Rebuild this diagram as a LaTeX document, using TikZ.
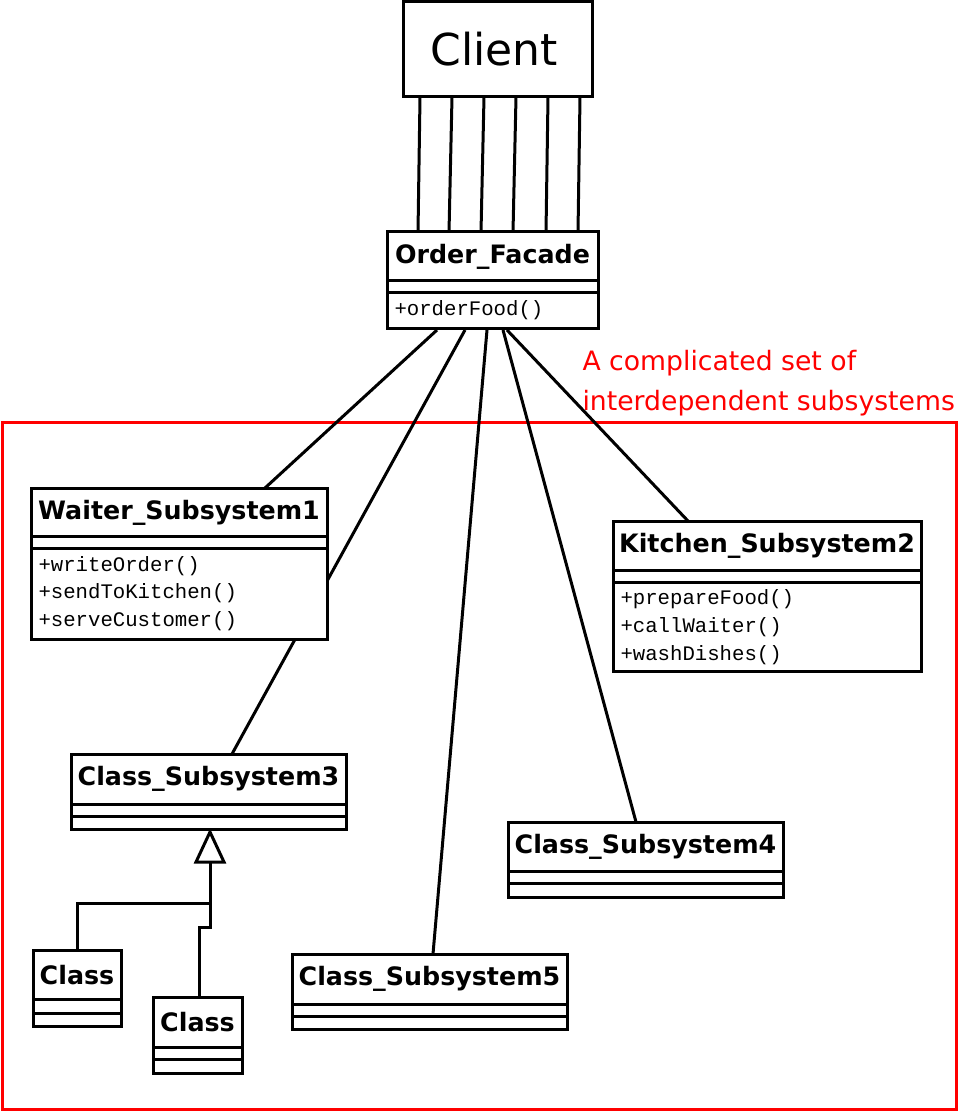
\documentclass[tikz,border=0pt]{standalone}
\usepackage{fontspec}
\setmainfont{DejaVu Sans}
\newfontfamily\monof{Liberation Mono}
\begin{document}
\begin{tikzpicture}[x=0.75pt,y=-0.75pt,line width=2.25pt,
  box/.style={draw,fill=white,inner sep=0pt},
  ttl/.style={font=\fontsize{19}{20}\selectfont\bfseries,anchor=center,inner sep=0pt},
  mth/.style={font=\monof\fontsize{15.5}{16}\selectfont,anchor=west,inner sep=0pt},
  conn/.style={draw,line width=2.25pt}]
\useasboundingbox (0,0) rectangle (960,1112);
% fitted box: #1 name, #2 x1, #3 y1, #4 x2, #5 y2, #6 line1, #7 line2
\newcommand\umlbox[7]{%
  \path[box] (#2,#3) rectangle (#4,#5);
  \node[inner sep=0pt,minimum width=0pt] (#1) at ({(#2+#4)/2},{(#3+#5)/2}) {};
  \draw (#2,#6) -- (#4,#6) (#2,#7) -- (#4,#7);}
% red frame
\draw[red,line width=2.25pt] (2,422) rectangle (956,1109);
\node[red,anchor=west,inner sep=0pt,font=\fontsize{20}{24}\selectfont] (note1) at (581,363) {A complicated set of};
\node[red,anchor=west,inner sep=0pt,font=\fontsize{20}{24}\selectfont] (note2) at (581,403) {interdependent subsystems};
% connector end coordinates
\coordinate (f1) at (437,330); \coordinate (w1) at (265,488);
\coordinate (f2) at (465,330); \coordinate (c3) at (232,754);
\coordinate (f3) at (487,330); \coordinate (c5) at (433,954);
\coordinate (f4) at (503,330); \coordinate (c4) at (636,822);
\coordinate (f5) at (507,330); \coordinate (k2) at (688,521);
\draw[conn] (f1) -- (w1);
\draw[conn] (f2) -- (c3);
\draw[conn] (f3) -- (c5);
\draw[conn] (f4) -- (c4);
\draw[conn] (f5) -- (k2);
% Client
\path[box] (403,2) rectangle (592,97);
\node[font=\fontsize{33}{36}\selectfont,inner sep=0pt] (client) at (494,49) {Client};
\foreach \a/\b in {420/418,452/449,484/481,516/513,548/546,580/578}
  \draw (\a,97) -- (\b,232);
% Order_Facade
\umlbox{facade}{387}{232}{598}{328}{281}{293}
\node[ttl] (facadet) at (492.5,257) {Order\_Facade};
\node[mth] (facadem) at (393,310) {+orderFood()};
% Waiter
\umlbox{waiter}{31}{488}{327}{639}{536}{548}
\node[ttl] (waitert) at (179,513) {Waiter\_Subsystem1};
\node[mth] (wm1) at (37,566) {+writeOrder()};
\node[mth] (wm2) at (37,593) {+sendToKitchen()};
\node[mth] (wm3) at (37,621) {+serveCustomer()};
% Kitchen
\umlbox{kitchen}{613}{521}{921}{671}{570}{582}
\node[ttl] (kitchent) at (767,546) {Kitchen\_Subsystem2};
\node[mth] (km1) at (619,599) {+prepareFood()};
\node[mth] (km2) at (619,627) {+callWaiter()};
\node[mth] (km3) at (619,655) {+washDishes()};
% Class subsystems
\umlbox{cs3}{71}{754}{346}{829}{804}{816}
\node[ttl] (cs3t) at (208.5,779) {Class\_Subsystem3};
\umlbox{cs4}{508}{822}{783}{897}{871}{883}
\node[ttl] (cs4t) at (645.5,847) {Class\_Subsystem4};
\umlbox{cs5}{292}{954}{567}{1029}{1004}{1016}
\node[ttl] (cs5t) at (429.5,979) {Class\_Subsystem5};
% small classes
\umlbox{cl1}{33}{950}{121}{1026}{999}{1013}
\node[ttl] (cl1t) at (77,975) {Class};
\umlbox{cl2}{153}{997}{242}{1073}{1047}{1059}
\node[ttl] (cl2t) at (197.5,1022) {Class};
% inheritance
\coordinate (tip) at (210,832);
\coordinate (tb) at (210,862);
\coordinate (j) at (210,903);
\draw[fill=white,line join=miter] (tip) -- (196,862) -- (224,862) -- cycle;
\draw (tb) -- (j) -- (77,903) -- (77,950);
\draw (j) -- (210,927) -- (199,927) -- (199,997);
\end{tikzpicture}
\end{document}
